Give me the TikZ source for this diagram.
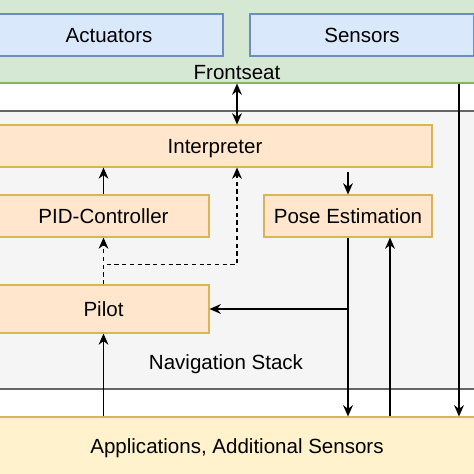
\documentclass[tikz,border=0pt]{standalone}
\usepackage{fontspec}
\setmainfont{Liberation Sans}
\usetikzlibrary{positioning, calc, arrows.meta}
\definecolor{frontFill}  {HTML}{D5E8D4}
\definecolor{frontBd}    {HTML}{82B366}
\definecolor{hwFill}     {HTML}{DAE8FC}
\definecolor{hwBd}       {HTML}{6C8EBF}
\definecolor{navFill}    {HTML}{F5F5F5}
\definecolor{navBd}      {HTML}{666666}
\definecolor{modFill}    {HTML}{FFE6CC}
\definecolor{modBd}      {HTML}{D6B656}
\definecolor{appFill}    {HTML}{FFF2CC}
\tikzset{
  %% common text setting
  txt/.style={
    font=\fontsize{14.6}{17}\selectfont,
    text height=10.5pt, text depth=0pt
  },
  %% hardware block in the frontseat
  hw/.style={
    rectangle, draw=hwBd, fill=hwFill, line width=0.8pt,
    minimum height=1.05cm, txt
  },
  %% module of the navigation stack
  module/.style={
    rectangle, draw=modBd, fill=modFill, line width=0.8pt,
    minimum height=1.05cm, txt
  },
  %% layer container
  layer/.style={
    rectangle, line width=0.8pt, inner sep=0pt
  },
  lbl/.style={
    txt, inner sep=2pt
  },
  %% standard arrow
  arr/.style={
    -{Stealth[length=8pt,width=7pt]},
    line width=0.9pt, color=black
  },
  %% two-way arrow
  arrD/.style={
    {Stealth[length=8pt,width=7pt]}-{Stealth[length=8pt,width=7pt]},
    line width=0.9pt, color=black
  },
  %% dashed arrow
  arrDash/.style={
    arr, dashed, dash pattern=on 3pt off 2.5pt
  }
}

\begin{document}
\begin{tikzpicture}[x=0.025cm, y=-0.025cm]

\path[use as bounding box] (0,0) rectangle (474,474);
\clip (0,0) rectangle (474,474);

%% ===== LAYERS =====

\node[layer, draw=navBd, fill=navFill,
  minimum width=12.35cm, minimum height=6.95cm] (nav) at (237,250) {};
\node[lbl] (navlbl) at (226,362) {Navigation Stack};

\node[layer, draw=frontBd, fill=frontFill,
  minimum width=11.95cm, minimum height=2.125cm,
  label={[lbl, anchor=south, inner sep=3pt]south:Frontseat}
] (front) at (237,40.5) {};

\node[hw, minimum width=5.7cm] (act) at (109,35) {Actuators};
\node[hw, minimum width=5.6cm] (sens) at (362,35) {Sensors};

%% ===== NAVIGATION STACK MODULES =====

\node[module, minimum width=10.85cm] (interp) at (215,146) {Interpreter};
\node[module, minimum width=5.275cm] (pid) at (103.5,216) {PID-Controller};
\node[module, minimum width=4.2cm] (pose) at (348,216) {Pose Estimation};
\node[module, minimum width=5.275cm, minimum height=1.2cm] (pilot) at (103.5,309) {Pilot};

\node[layer, draw=modBd, fill=appFill, txt,
  minimum width=11.95cm, minimum height=1.45cm] (apps) at (237,446) {Applications, Additional Sensors};

%% helper columns
\coordinate (colPose) at (390,0);
\coordinate (colBus)  at (459,0);

%% ===== CONNECTORS =====

\draw[arrD] (front.south) -- (front.south |- interp.north);
\draw[arr] (pid.north) -- (pid.north |- interp.south);
\draw[arr, shorten <=3pt] (pose.north |- interp.south) -- (pose.north);

\draw[arrDash] (pilot.north) -- (pid.south);
\draw[arrDash] (pilot.north) -- ++(0,-20) -| (front.south |- interp.south);

\draw[arr] (pose.south) -- (pose.south |- apps.north);
\draw[arr] (pose.south |- pilot.east) -- (pilot.east);
\draw[arr] (colPose |- apps.north) -- (colPose |- pose.south);
\draw[arr] (colBus |- front.south) -- (colBus |- apps.north);
\draw[arr] (pilot.south |- apps.north) -- (pilot.south);

\end{tikzpicture}
\end{document}
